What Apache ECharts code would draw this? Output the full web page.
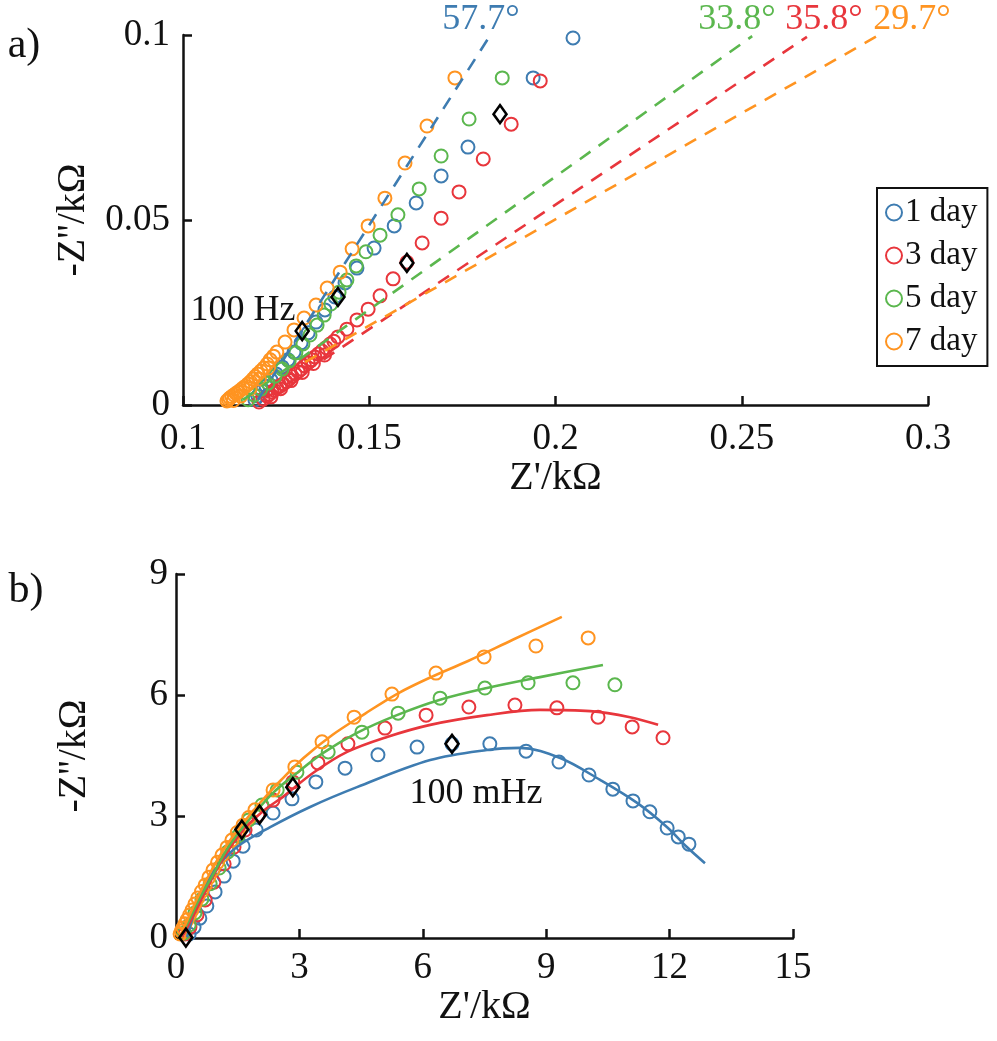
<!DOCTYPE html>
<html>
<head>
<meta charset="utf-8">
<script src="https://cdn.jsdelivr.net/npm/echarts@6/dist/echarts.min.js"></script>
<style>
  html, body { margin: 0; padding: 0; background: #fff; }
  #main { width: 997px; height: 1041px; }
</style>
</head>
<body>
<div id="main"></div>
<script>
// ---- data ----
var names = ['1 day', '3 day', '5 day', '7 day'];
var colors = ['#3E7CB1', '#E8363C', '#5BB74E', '#FF9421'];

// panel a) high frequency part
var xTicksA = [0.1, 0.15, 0.2, 0.25, 0.3];
var yTicksA = [0, 0.05, 0.1];

var day1A = [[0.2047,0.0992],[0.1940,0.0884],[0.1765,0.0697],[0.1693,0.0619],[0.1626,0.0546],[0.1567,0.0484],
  [0.1513,0.0424],[0.1467,0.0370],[0.1435,0.0330],[0.1408,0.0292],[0.1381,0.0257],[0.1357,0.0224],[0.1336,0.0195],
  [0.1317,0.0168],[0.1298,0.0143],[0.1282,0.0122],[0.1266,0.0103],[0.1250,0.0084],[0.1236,0.0068],[0.1223,0.0051],
  [0.1212,0.0038],[0.1201,0.0024],[0.1193,0.0014]];
var day3A = [[0.1959,0.0876],[0.1881,0.0759],[0.1806,0.0665],[0.1741,0.0576],[0.1693,0.0505],[0.1642,0.0438],
  [0.1601,0.0386],[0.1564,0.0341],[0.1529,0.0295],[0.1497,0.0259],[0.1467,0.0230],[0.1440,0.0205],[0.1416,0.0184],
  [0.1405,0.0172],[0.1395,0.0165],[0.1384,0.0155],[0.1373,0.0146],[0.1363,0.0138],[0.1354,0.0130],[0.1345,0.0122],
  [0.1336,0.0114],[0.1326,0.0106],[0.1317,0.0097],[0.1309,0.0090],[0.1301,0.0084],[0.1293,0.0077],[0.1285,0.0070],
  [0.1277,0.0063],[0.1269,0.0057],[0.1260,0.0051],[0.1252,0.0046],[0.1245,0.0040],[0.1239,0.0035],[0.1232,0.0029],
  [0.1226,0.0024],[0.1215,0.0016],[0.1204,0.0008],
  [0.1380,0.0135],[0.1350,0.0112],[0.1320,0.0088],[0.1290,0.0066],[0.1262,0.0044],[0.1236,0.0022]];
var day5A = [[0.1857,0.0884],[0.1768,0.0773],[0.1693,0.0673],[0.1634,0.0584],[0.1577,0.0514],[0.1529,0.0459],
  [0.1491,0.0414],[0.1465,0.0376],[0.1440,0.0338],[0.1419,0.0305],[0.1397,0.0273],[0.1379,0.0243],[0.1360,0.0216],
  [0.1341,0.0189],[0.1322,0.0165],[0.1303,0.0141],[0.1285,0.0119],[0.1266,0.0097],[0.1247,0.0078],[0.1228,0.0059],
  [0.1209,0.0043],[0.1191,0.0027],[0.1175,0.0014]];
var day7A = [[0.1730,0.0884],[0.1655,0.0754],[0.1596,0.0654],[0.1542,0.0559],[0.1497,0.0484],[0.1454,0.0422],
  [0.1422,0.0359],[0.1387,0.0316],[0.1357,0.0270],[0.1325,0.0235],[0.1298,0.0203],[0.1274,0.0170],[0.1252,0.0143],
  [0.1243,0.0132],[0.1234,0.0122],[0.1226,0.0111],[0.1217,0.0100],[0.1209,0.0092],[0.1201,0.0084],[0.1194,0.0077],
  [0.1188,0.0070],[0.1181,0.0063],[0.1175,0.0057],[0.1168,0.0051],[0.1161,0.0046],[0.1154,0.0040],[0.1148,0.0035],
  [0.1142,0.0031],[0.1137,0.0027],[0.1131,0.0023],[0.1126,0.0019],[0.1122,0.0015],[0.1118,0.0011],
  [0.1230,0.0100],[0.1205,0.0070],[0.1180,0.0044],[0.1155,0.0024],[0.1135,0.0012]];
var marksA = [[0.1851,0.0786],[0.1601,0.0384],[0.1416,0.0292],[0.1320,0.0200]];

// dashed slope lines (start, end) and their angle labels
var slope1 = [[0.1201,0.0014],[0.1822,0.0995]];
var slope3 = [[0.1223,0.0019],[0.2675,0.0995]];
var slope5 = [[0.1161,0.0014],[0.2528,0.0997]];
var slope7 = [[0.1328,0.0116],[0.2863,0.0997]];
var angleText = ['57.7°', '35.8°', '33.8°', '29.7°'];

// panel b) full spectrum
var xTicksB = [0, 3, 6, 9, 12, 15];
var yTicksB = [0, 3, 6, 9];

var day1B = [[0.32,0.10],[0.44,0.27],[0.58,0.49],[0.75,0.79],[0.95,1.14],[1.17,1.53],[1.39,1.90],[1.63,2.27],
  [1.95,2.67],[2.36,3.09],[2.82,3.44],[3.40,3.86],[4.11,4.20],[4.91,4.53],[5.86,4.72],[6.71,4.80],[7.63,4.80],
  [8.51,4.62],[9.31,4.35],[10.04,4.03],[10.62,3.68],[11.11,3.39],[11.52,3.12],[11.94,2.72],[12.21,2.50],[12.47,2.32]];
var day3B = [[0.22,0.10],[0.34,0.27],[0.51,0.57],[0.71,0.94],[0.92,1.38],[1.17,1.83],[1.41,2.25],[1.68,2.67],
  [1.99,3.04],[2.36,3.41],[2.84,3.86],[3.45,4.33],[4.18,4.80],[5.08,5.19],[6.08,5.51],[7.12,5.71],[8.24,5.76],
  [9.26,5.69],[10.26,5.46],[11.09,5.22],[11.84,4.95]];
var day5B = [[0.19,0.12],[0.32,0.32],[0.46,0.62],[0.63,0.96],[0.83,1.34],[1.05,1.73],[1.26,2.13],[1.51,2.52],
  [1.77,2.92],[2.09,3.29],[2.46,3.66],[2.94,4.10],[3.70,4.60],[4.52,5.09],[5.40,5.56],[6.42,5.93],[7.51,6.18],
  [8.56,6.31],[9.65,6.31],[10.67,6.26]];
var day7B = [[0.10,0.10],[0.13,0.17],[0.17,0.25],[0.22,0.35],[0.27,0.45],[0.33,0.57],[0.39,0.69],[0.46,0.84],
  [0.53,0.99],[0.62,1.15],[0.71,1.31],[0.80,1.50],[0.90,1.68],[1.01,1.87],[1.12,2.05],[1.24,2.24],[1.36,2.42],
  [1.49,2.61],[1.63,2.79],[1.77,2.98],[1.92,3.17],[2.36,3.66],[2.89,4.23],[3.55,4.85],[4.33,5.46],[5.25,6.03],
  [6.32,6.55],[7.49,6.95],[8.75,7.22],[10.02,7.42]];
var marksB = [[6.71,4.80],[2.84,3.73],[2.03,3.05],[1.60,2.68],[0.24,0.01]];

// fitted curves
var fit1 = [[0.27,0.02],[0.41,0.52],[0.66,1.19],[1.00,1.76],[1.48,2.25],[2.29,2.74],[3.26,3.24],[4.40,3.73],
  [6.18,4.40],[7.56,4.65],[8.36,4.70],[9.34,4.45],[10.31,3.91],[11.21,3.34],[11.94,2.74],[12.42,2.25],[12.86,1.85]];
var fit3 = [[0.15,0.02],[0.39,0.49],[0.66,1.04],[0.95,1.61],[1.26,2.15],[1.68,2.72],[2.16,3.17],[2.60,3.49],
  [3.33,4.08],[4.16,4.60],[5.13,4.97],[6.18,5.27],[7.56,5.51],[8.85,5.64],[10.07,5.61],[11.04,5.46],[11.72,5.27]];
var fit5 = [[0.10,0.02],[0.34,0.49],[0.58,0.99],[0.88,1.53],[1.26,2.23],[1.73,2.87],[2.36,3.59],[2.94,4.08],
  [3.57,4.57],[4.40,5.07],[5.37,5.51],[6.42,5.89],[7.56,6.18],[8.85,6.45],[10.38,6.75]];
var fit7 = [[0.10,0.05],[0.30,0.50],[0.55,1.05],[0.85,1.65],[1.20,2.25],[1.60,2.80],[2.05,3.35],[2.55,3.90],
  [3.10,4.45],[3.80,5.02],[4.60,5.55],[5.40,6.05],[6.20,6.45],[7.10,6.85],[8.20,7.38],[9.38,7.94]];

// ---- chart ----
var FONT = '"Liberation Serif", "Times New Roman", serif';
var chart = echarts.init(document.getElementById('main'));

function axisCommon(extra) {
  var a = {
    type: 'value',
    axisLine: { show: true, onZero: false, lineStyle: { color: '#111', width: 2.5 } },
    axisTick: { show: true, inside: true, length: 9, lineStyle: { color: '#111', width: 2.5 } },
    splitLine: { show: false },
    nameLocation: 'middle',
    nameTextStyle: { color: '#111', fontSize: 40, fontFamily: FONT }
  };
  for (var k in extra) a[k] = extra[k];
  return a;
}

function labels(margin) {
  return { color: '#111', fontSize: 37, fontFamily: FONT, margin: margin };
}

function rings(name, data, color, xi) {
  return {
    name: name, type: 'scatter', xAxisIndex: xi, yAxisIndex: xi, data: data,
    symbol: 'circle', symbolSize: 13, z: 2,
    itemStyle: { color: 'rgba(0,0,0,0)', borderColor: color, borderWidth: 2, opacity: 1 },
    emphasis: { disabled: true }
  };
}

function line(name, data, color, xi, dashed) {
  return {
    name: name, type: 'line', xAxisIndex: xi, yAxisIndex: xi, data: data,
    showSymbol: false, symbol: 'none', smooth: dashed ? false : 0.35, z: 3,
    lineStyle: { color: color, width: 2.6, type: dashed ? [13, 10] : 'solid' },
    emphasis: { disabled: true }
  };
}

function diamonds(data, xi) {
  return {
    name: 'marks', type: 'scatter', xAxisIndex: xi, yAxisIndex: xi, data: data,
    symbol: 'diamond', symbolSize: [13, 18], z: 4,
    itemStyle: { color: 'rgba(0,0,0,0)', borderColor: '#000', borderWidth: 2.6, opacity: 1 }
  };
}

var dataA = [day1A, day3A, day5A, day7A];
var dataB = [day1B, day3B, day5B, day7B];
var slopes = [slope1, slope3, slope5, slope7];
var fits = [fit1, fit3, fit5, fit7];

var series = [];
for (var i = 0; i < 4; i++) series.push(rings(names[i], dataA[i], colors[i], 0));
for (var i = 0; i < 4; i++) series.push(line(names[i] + ' slope', slopes[i], colors[i], 0, true));
series.push(diamonds(marksA, 0));
for (var i = 0; i < 4; i++) series.push(rings(names[i], dataB[i], colors[i], 1));
for (var i = 0; i < 4; i++) series.push(line(names[i] + ' fit', fits[i], colors[i], 1, false));
series.push(diamonds(marksB, 1));

function txt(x, y, s, color, size) {
  return { type: 'text', x: x, y: y, silent: true,
    style: { text: s, fill: color, font: size + 'px ' + FONT, align: 'center', verticalAlign: 'middle' } };
}

var option = {
  animation: false,
  backgroundColor: '#fff',
  grid: [
    { left: 183, top: 35, width: 745, height: 370 },
    { left: 176, top: 574, width: 617, height: 364 }
  ],
  xAxis: [
    axisCommon({ gridIndex: 0, min: xTicksA[0], max: xTicksA[xTicksA.length - 1], interval: 0.05,
      name: "Z'/kΩ", nameGap: 40, axisLabel: labels(16) }),
    axisCommon({ gridIndex: 1, min: xTicksB[0], max: xTicksB[xTicksB.length - 1], interval: 3,
      name: "Z'/kΩ", nameGap: 46, axisLabel: labels(12) })
  ],
  yAxis: [
    axisCommon({ gridIndex: 0, min: yTicksA[0], max: yTicksA[yTicksA.length - 1], interval: 0.05,
      name: "-Z''/kΩ", nameGap: 90, axisLabel: labels(13) }),
    axisCommon({ gridIndex: 1, min: yTicksB[0], max: yTicksB[yTicksB.length - 1], interval: 3,
      name: "-Z''/kΩ", nameGap: 82, axisLabel: labels(8) })
  ],
  legend: {
    orient: 'vertical', left: 877, top: 188,
    padding: [8, 10, 8, 8], itemGap: 10, itemWidth: 16, itemHeight: 16,
    borderColor: '#111', borderWidth: 2, backgroundColor: '#fff',
    textStyle: { color: '#111', fontSize: 33, fontFamily: FONT, padding: [0, 0, 0, -2] },
    selectedMode: false,
    data: names.map(function (n, i) {
      return { name: n, icon: 'circle',
        itemStyle: { color: 'rgba(0,0,0,0)', borderColor: colors[i], borderWidth: 2 } };
    })
  },
  graphic: [
    txt(24, 46, 'a)', '#111', 42),
    txt(26, 591, 'b)', '#111', 42),
    txt(243, 311, '100 Hz', '#111', 36),
    txt(476, 794, '100 mHz', '#111', 36),
    txt(481, 20, angleText[0], colors[0], 36),
    txt(824, 20, angleText[1], colors[1], 36),
    txt(737, 20, angleText[2], colors[2], 36),
    txt(912, 20, angleText[3], colors[3], 36)
  ],
  series: series
};

chart.setOption(option);
</script>
</body>
</html>
